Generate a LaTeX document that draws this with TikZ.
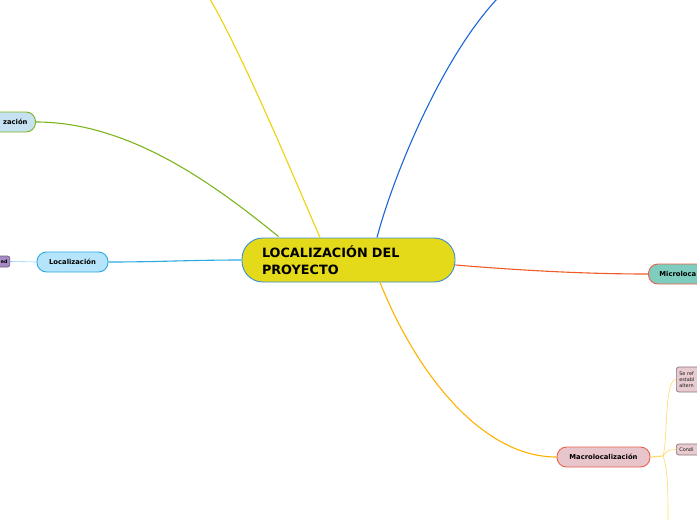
\documentclass[tikz,border=0pt]{standalone}
\usepackage{fontspec}
\setmainfont{DejaVu Sans}
\definecolor{cfill}{HTML}{E5DA1A}
\definecolor{cbord}{HTML}{3A8FD6}
\definecolor{lyel}{HTML}{EED20A}
\definecolor{lblue}{HTML}{1A66D6}
\definecolor{lgreen}{HTML}{7AB51D}
\definecolor{lcyan}{HTML}{29A9E1}
\definecolor{lred}{HTML}{F05A28}
\definecolor{lorange}{HTML}{FFB000}
\definecolor{lpale}{HTML}{FFD966}
\definecolor{lbfill}{HTML}{B6E4FA}
\definecolor{gfill}{HTML}{C6E1F1}
\definecolor{pfill}{HTML}{A68AC4}
\definecolor{pbord}{HTML}{6E5A80}
\definecolor{tfill}{HTML}{7ECDBF}
\definecolor{rbord}{HTML}{E8604A}
\definecolor{mfill}{HTML}{E8C5CB}
\definecolor{sfill}{HTML}{E8CBD0}
\definecolor{sbord}{HTML}{8C7276}
\tikzset{
  pill/.style={draw, line width=0.9pt, rounded corners=9.5pt, minimum height=20pt, inner sep=0pt, font=\bfseries\fontsize{6.8}{8}\selectfont},
  sub/.style={draw=sbord, fill=sfill, line width=0.7pt, rounded corners=2.5pt, inner sep=0pt, anchor=west, font=\fontsize{4.9}{6}\selectfont, text=black!90},
  conn/.style={line width=1.1pt}
}
\begin{document}
\begin{tikzpicture}[x=1pt,y=-1pt]
\useasboundingbox (0,0) rectangle (697,520);
% nodes
\node[draw=cbord, fill=cfill, line width=0.9pt, rounded corners=21pt, minimum width=213pt, minimum height=44pt, text width=173pt, inner xsep=20pt, align=left, font=\bfseries\fontsize{12.8}{17.5}\selectfont] (c) at (348.5,260) {LOCALIZACIÓN DEL\\PROYECTO};
\node[pill, draw=lcyan, fill=lbfill, minimum width=71pt] (loc) at (72.5,262) {Localización};
\node[pill, draw=lgreen, fill=gfill, minimum width=80pt, text width=64pt, align=right, anchor=east] (org) at (36,122) {zación};
\node[draw=pbord, fill=pfill, line width=0.7pt, rounded corners=2pt, minimum height=11pt, minimum width=30pt, text width=26pt, inner sep=0pt, align=right, anchor=east, font=\bfseries\fontsize{4.8}{5.6}\selectfont] (pur) at (10,261.5) {ed};
\node[pill, draw=rbord, fill=tfill, minimum width=100pt, text width=78pt, align=left, anchor=west] (micro) at (648,274) {Microloca};
\node[pill, draw=rbord, fill=mfill, minimum width=93pt] (macro) at (603.5,457) {Macrolocalización};
\node[sub, minimum width=40pt, minimum height=25pt, text width=34pt, align=left] (s1) at (676,379.5) {Se ref\\establ\\altern};
\node[sub, minimum width=40pt, minimum height=11pt, text width=34pt, align=left] (s2) at (676,449.5) {Condi};
\coordinate (ytop) at (210,-1);
\coordinate (btop) at (497,-1);
\coordinate (mj) at (663,456);
\coordinate (mdown) at (668,521);
% connectors
\draw[conn, lyel] ([xshift=-28.5pt]c.north) .. controls (295,180) and (245,60) .. (ytop);
\draw[conn, lblue] ([xshift=28.5pt]c.north) .. controls (392,180) and (440,60) .. (btop);
\draw[conn, lgreen] ([xshift=-70pt,yshift=1pt]c.north) .. controls (215,185) and (130,122) .. (org.east);
\draw[conn, lcyan] (c.west) .. controls (190,260) and (160,262) .. (loc.east);
\draw[line width=0.6pt, lcyan!55] (pur.east) -- (loc.west);
\draw[conn, lred] ([yshift=-5pt]c.east) .. controls (540,272) and (600,274) .. (micro.west);
\draw[conn, lorange] ([xshift=31.5pt]c.south) .. controls (415,370) and (480,457) .. (macro.west);
\draw[line width=1.1pt, lpale] (macro.east) -- (mj);
\draw[line width=0.6pt, lpale] (mj) .. controls (668,440) and (664,380) .. (s1.west);
\draw[line width=0.6pt, lpale] (mj) .. controls (668,450) .. (s2.west);
\draw[line width=0.6pt, lpale] (mj) .. controls (668,470) and (668,490) .. (mdown);
\end{tikzpicture}
\end{document}
